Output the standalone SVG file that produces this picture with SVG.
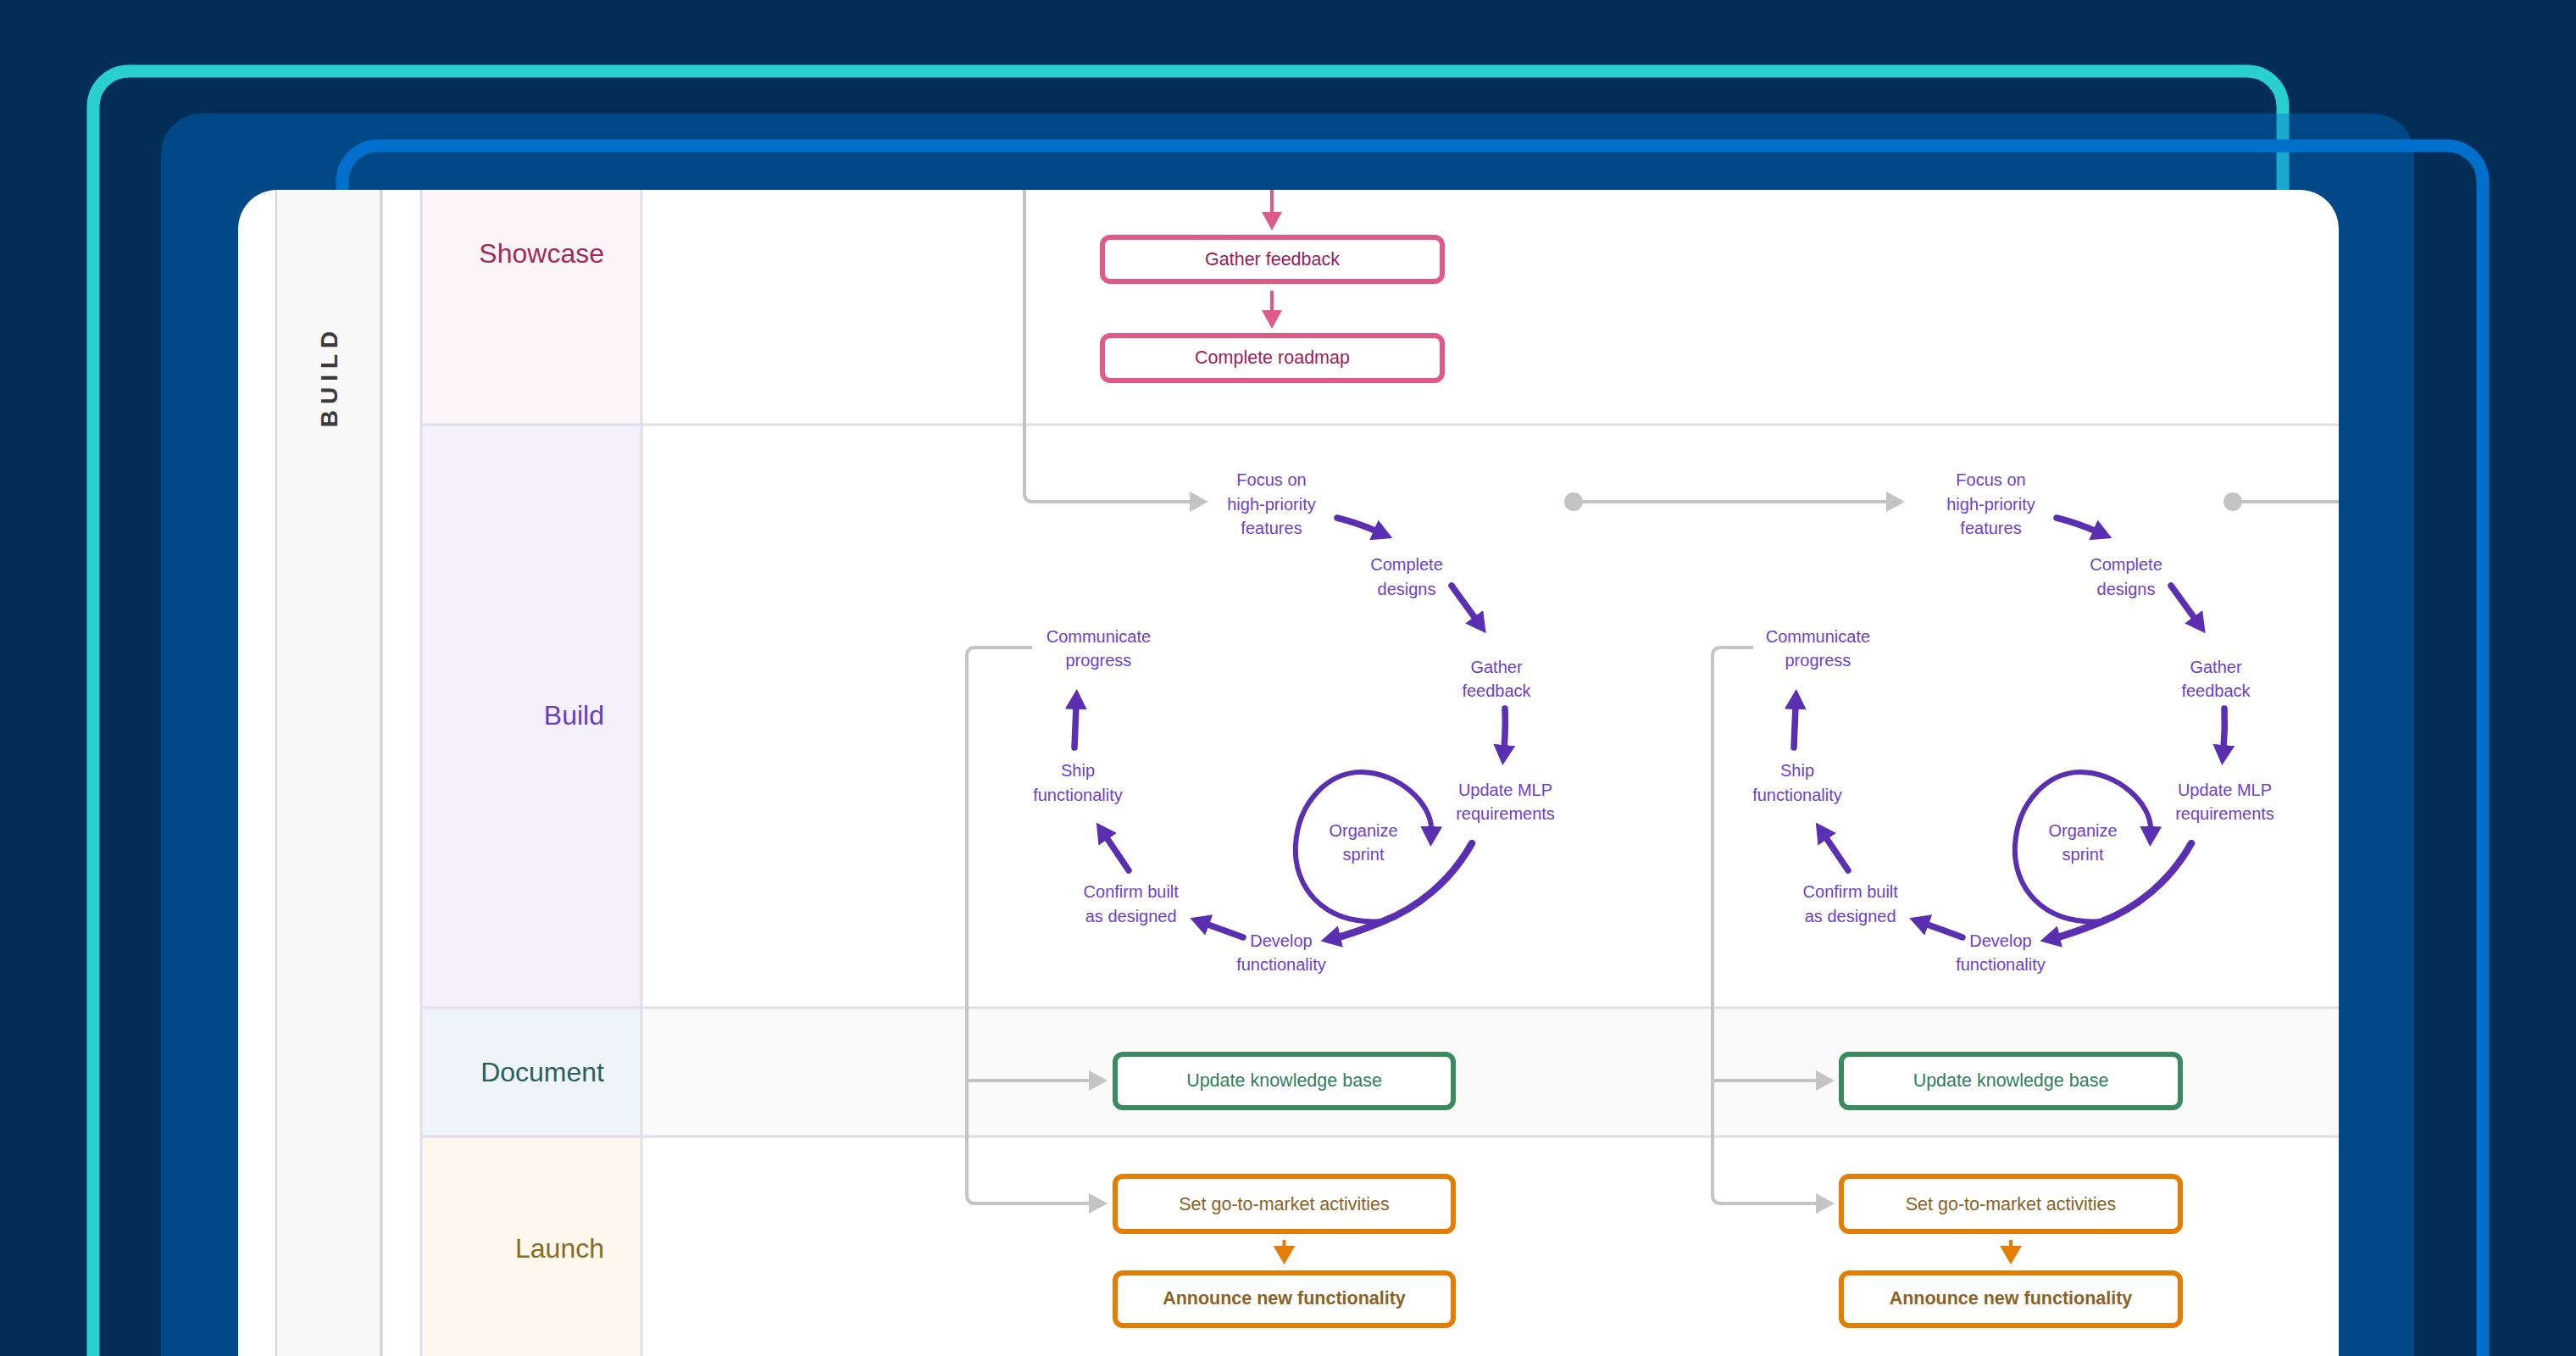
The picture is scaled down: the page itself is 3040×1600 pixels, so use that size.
<svg xmlns="http://www.w3.org/2000/svg" width="3040" height="1600" viewBox="0 0 3040 1600">
<style>
text{font-family:"Liberation Sans",Arial,Helvetica,sans-serif}
.lane{font-size:32px;text-anchor:end}
.ct{font-size:20px;fill:#6c41c9;text-anchor:middle}
.bt{font-size:21.5px;text-anchor:middle}
.bx{fill:#ffffff;stroke-width:6}
.pk{stroke:#df5a88}
.gr{stroke:#3b8a60}
.or{stroke:#e47d04}
.gc{fill:none;stroke:#c4c4c4;stroke-width:4}
.ga{fill:none;stroke:#c4c4c4;stroke-width:4;marker-end:url(#mg)}
.pa{fill:none;stroke:#5a2fb2;stroke-width:7.5;stroke-linecap:round;marker-end:url(#mp)}
.mc{fill:none;stroke:#5a2fb2;stroke-width:8.5;stroke-linecap:round;marker-end:url(#mp)}
.lp{fill:none;stroke:#5a2fb2;stroke-width:6;stroke-linecap:round;marker-end:url(#mp)}
.sep{stroke:#e2dbeb;stroke-width:3;fill:none}
</style>
<defs>
<marker id="mp" markerUnits="userSpaceOnUse" markerWidth="26" markerHeight="26" viewBox="0 0 26 26" refX="4" refY="13" orient="auto"><path d="M0,0 L24,13 L0,26 z" fill="#5a2fb2"/></marker>
<marker id="mg" markerUnits="userSpaceOnUse" markerWidth="22" markerHeight="24" viewBox="0 0 22 24" refX="0" refY="12" orient="auto"><path d="M0,0 L22,12 L0,24 z" fill="#c4c4c4"/></marker>
<marker id="mk" markerUnits="userSpaceOnUse" markerWidth="22" markerHeight="24" viewBox="0 0 22 24" refX="2" refY="12" orient="auto"><path d="M0,0 L22,12 L0,24 z" fill="#df5a88"/></marker>
<marker id="mo" markerUnits="userSpaceOnUse" markerWidth="22" markerHeight="26" viewBox="0 0 22 26" refX="2" refY="13" orient="auto"><path d="M0,0 L22,13 L0,26 z" fill="#e47d04"/></marker>
</defs>

<g id="background">
<rect x="0" y="0" width="3040" height="1600" fill="#012d57"/>
<rect x="110" y="84" width="2584" height="1700" rx="42" fill="none" stroke="#2acfcf" stroke-width="15"/>
<rect x="190" y="134" width="2659" height="1700" rx="48" fill="#0070cc" fill-opacity="0.4"/>
<rect x="404" y="172" width="2526" height="1700" rx="42" fill="none" stroke="#0070cc" stroke-width="15"/>
<rect x="281" y="224" width="2479" height="1700" rx="46" fill="#ffffff"/>
</g>

<g id="lanes">
<rect x="326" y="224" width="124" height="1400" fill="#f9f9f9"/>
<line x1="326" y1="224" x2="326" y2="1600" stroke="#d2d2d2" stroke-width="2"/>
<line x1="450" y1="224" x2="450" y2="1600" stroke="#d0d0d0" stroke-width="3"/>
<rect x="497" y="224" width="260" height="277" fill="#fbf5f7"/>
<rect x="497" y="501" width="260" height="688" fill="#f4f0fd"/>
<rect x="497" y="1189" width="260" height="152" fill="#eef4f8"/>
<rect x="497" y="1341" width="260" height="300" fill="#fcf8ee"/>
<rect x="757" y="1189" width="2003" height="152" fill="#fafafa"/>
<line class="sep" x1="497" y1="224" x2="497" y2="1600"/>
<line class="sep" x1="757" y1="224" x2="757" y2="1600"/>
<line class="sep" x1="497" y1="501" x2="2760" y2="501"/>
<line class="sep" x1="497" y1="1189" x2="2760" y2="1189"/>
<line class="sep" x1="497" y1="1341" x2="2760" y2="1341"/>
<text transform="translate(398,444) rotate(-90)" text-anchor="middle" font-size="28" font-weight="bold" letter-spacing="7" fill="#3a3a3a">BUILD</text>
<text class="lane" x="713" y="310" fill="#a62a55">Showcase</text>
<text class="lane" x="713" y="855" fill="#6a3cc0">Build</text>
<text class="lane" x="713" y="1276" fill="#2b5f5f">Document</text>
<text class="lane" x="713" y="1484" fill="#8d6a22">Launch</text>
</g>

<g id="connectors">
<path class="ga" d="M1209,224 V582 Q1209,592 1219,592 H1404"/>
<line class="ga" x1="1857" y1="592" x2="2226" y2="592"/>
<circle cx="1857" cy="592" r="11" fill="#c4c4c4"/>
<line class="gc" x1="2635" y1="592" x2="2760" y2="592"/>
<circle cx="2635" cy="592" r="11" fill="#c4c4c4"/>
<path class="gc" d="M1218,764 H1151 Q1141,764 1141,774 V1410 Q1141,1420 1151,1420 H1285" marker-end="url(#mg)"/>
<path class="ga" d="M1141,1275 H1285"/>
<path class="gc" d="M2069,764 H2031 Q2021,764 2021,774 V1410 Q2021,1420 2031,1420 H2143" marker-end="url(#mg)"/>
<path class="ga" d="M2021,1275 H2143"/>
<path d="M1501,224 V252" stroke="#df5a88" stroke-width="4" marker-end="url(#mk)"/>
<path d="M1501,343 V368" stroke="#df5a88" stroke-width="4" marker-end="url(#mk)"/>
<path d="M1515.5,1463 V1472" stroke="#e47d04" stroke-width="4" marker-end="url(#mo)"/>
<path d="M2373,1463 V1472" stroke="#e47d04" stroke-width="4" marker-end="url(#mo)"/>
<g id="cycle-arrows-1">
<path class="pa" d="M1578,611 Q1602,617 1625,627"/>
<path class="pa" d="M1713,691 L1742,731"/>
<path class="pa" d="M1776,836 Q1777,860 1775,883"/>
<path class="mc" d="M1737,995 C1712,1040 1672,1072 1630,1088 C1612,1095 1595,1102 1578,1106"/>
<path class="lp" d="M1632,1087 C1560,1092 1526,1045 1529,997 C1532,946 1568,911 1606,911 C1650,911 1690,948 1689,979"/>
<path class="pa" d="M1467,1106 L1423,1090"/>
<path class="pa" d="M1332,1027 L1305,987"/>
<path class="pa" d="M1268,882 L1270,833"/>
</g>
<g id="cycle-arrows-2" transform="translate(849,0)">
<path class="pa" d="M1578,611 Q1602,617 1625,627"/>
<path class="pa" d="M1713,691 L1742,731"/>
<path class="pa" d="M1776,836 Q1777,860 1775,883"/>
<path class="mc" d="M1737,995 C1712,1040 1672,1072 1630,1088 C1612,1095 1595,1102 1578,1106"/>
<path class="lp" d="M1632,1087 C1560,1092 1526,1045 1529,997 C1532,946 1568,911 1606,911 C1650,911 1690,948 1689,979"/>
<path class="pa" d="M1467,1106 L1423,1090"/>
<path class="pa" d="M1332,1027 L1305,987"/>
<path class="pa" d="M1268,882 L1270,833"/>
</g>
</g>

<g id="showcase-gather-feedback"><rect class="bx pk" x="1301" y="280" width="401" height="52" rx="9"/><text class="bt" x="1501.5" y="312.5" fill="#9d1b55">Gather feedback</text></g>
<g id="showcase-complete-roadmap"><rect class="bx pk" x="1301" y="396" width="401" height="53" rx="9"/><text class="bt" x="1501.5" y="429" fill="#9d1b55">Complete roadmap</text></g>

<g id="cycle-1">
<g id="c1-focus"><text class="ct" x="1500.5" y="573">Focus on</text><text class="ct" x="1500.5" y="601.5">high-priority</text><text class="ct" x="1500.5" y="630">features</text></g>
<g id="c1-complete-designs"><text class="ct" x="1660" y="673">Complete</text><text class="ct" x="1660" y="702">designs</text></g>
<g id="c1-gather-feedback"><text class="ct" x="1766" y="793.5">Gather</text><text class="ct" x="1766" y="822">feedback</text></g>
<g id="c1-update-mlp"><text class="ct" x="1776.5" y="938.5">Update MLP</text><text class="ct" x="1776.5" y="967">requirements</text></g>
<g id="c1-organize-sprint"><text class="ct" x="1609" y="987">Organize</text><text class="ct" x="1609" y="1015">sprint</text></g>
<g id="c1-develop"><text class="ct" x="1512" y="1117">Develop</text><text class="ct" x="1512" y="1145">functionality</text></g>
<g id="c1-confirm"><text class="ct" x="1334.7" y="1059">Confirm built</text><text class="ct" x="1334.7" y="1087.5">as designed</text></g>
<g id="c1-ship"><text class="ct" x="1272" y="916">Ship</text><text class="ct" x="1272" y="944.5">functionality</text></g>
<g id="c1-communicate"><text class="ct" x="1296.4" y="757.5">Communicate</text><text class="ct" x="1296.4" y="786">progress</text></g>
</g>

<g id="cycle-2" transform="translate(849,0)">
<g id="c2-focus"><text class="ct" x="1500.5" y="573">Focus on</text><text class="ct" x="1500.5" y="601.5">high-priority</text><text class="ct" x="1500.5" y="630">features</text></g>
<g id="c2-complete-designs"><text class="ct" x="1660" y="673">Complete</text><text class="ct" x="1660" y="702">designs</text></g>
<g id="c2-gather-feedback"><text class="ct" x="1766" y="793.5">Gather</text><text class="ct" x="1766" y="822">feedback</text></g>
<g id="c2-update-mlp"><text class="ct" x="1776.5" y="938.5">Update MLP</text><text class="ct" x="1776.5" y="967">requirements</text></g>
<g id="c2-organize-sprint"><text class="ct" x="1609" y="987">Organize</text><text class="ct" x="1609" y="1015">sprint</text></g>
<g id="c2-develop"><text class="ct" x="1512" y="1117">Develop</text><text class="ct" x="1512" y="1145">functionality</text></g>
<g id="c2-confirm"><text class="ct" x="1334.7" y="1059">Confirm built</text><text class="ct" x="1334.7" y="1087.5">as designed</text></g>
<g id="c2-ship"><text class="ct" x="1272" y="916">Ship</text><text class="ct" x="1272" y="944.5">functionality</text></g>
<g id="c2-communicate"><text class="ct" x="1296.4" y="757.5">Communicate</text><text class="ct" x="1296.4" y="786">progress</text></g>
</g>

<g id="doc-1"><rect class="bx gr" x="1316" y="1244" width="399" height="63" rx="9"/><text class="bt" x="1515.5" y="1282" fill="#2e8057">Update knowledge base</text></g>
<g id="launch-1a"><rect class="bx or" x="1316" y="1388" width="399" height="65" rx="9"/><text class="bt" x="1515.5" y="1427.5" fill="#8c6123">Set go-to-market activities</text></g>
<g id="launch-1b"><rect class="bx or" x="1316" y="1502" width="399" height="62" rx="9"/><text class="bt" x="1515.5" y="1539" fill="#8c6123" font-weight="bold" style="font-size:21.5px">Announce new functionality</text></g>
<g id="doc-2"><rect class="bx gr" x="2173" y="1244" width="400" height="63" rx="9"/><text class="bt" x="2373" y="1282" fill="#2e8057">Update knowledge base</text></g>
<g id="launch-2a"><rect class="bx or" x="2173" y="1388" width="400" height="65" rx="9"/><text class="bt" x="2373" y="1427.5" fill="#8c6123">Set go-to-market activities</text></g>
<g id="launch-2b"><rect class="bx or" x="2173" y="1502" width="400" height="62" rx="9"/><text class="bt" x="2373" y="1539" fill="#8c6123" font-weight="bold" style="font-size:21.5px">Announce new functionality</text></g>
</svg>
